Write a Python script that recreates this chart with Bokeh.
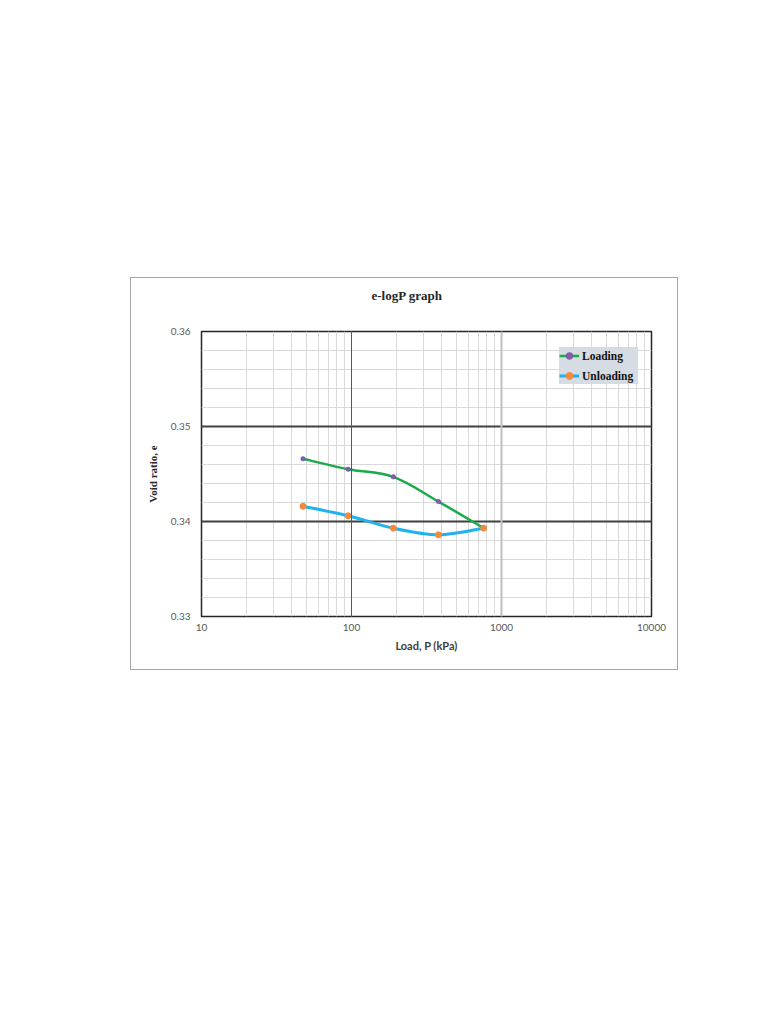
import numpy as np
from bokeh.plotting import figure
from bokeh.models import FixedTicker, Span, Legend, LegendItem, Spacer, Title
from bokeh.layouts import column, row
from bokeh.embed import file_html
from bokeh.resources import INLINE

# ---- data ----
load_P = [47.5, 95, 190, 380, 760]
e_loading = [0.3466, 0.3455, 0.3447, 0.3421, 0.3393]
unload_P = [760, 380, 190, 95, 47.5]
e_unloading = [0.3393, 0.3386, 0.3393, 0.3406, 0.3416]

x_ticks = [10, 100, 1000, 10000]
y_ticks = [0.33, 0.34, 0.35, 0.36]
x_minor = [m * d for d in [10, 100, 1000] for m in range(2, 10)]
y_minor = [round(t + k * 0.002, 4) for t in y_ticks[:-1] for k in range(1, 5)]


def smooth(xs, ys):
    """Excel-like smoothed line: Catmull-Rom segments as cubic Beziers (in log-x space)."""
    lx = np.log10(np.asarray(xs, dtype=float))
    y = np.asarray(ys, dtype=float)
    n = len(lx)
    d = dict(x0=[], y0=[], x1=[], y1=[], cx0=[], cy0=[], cx1=[], cy1=[])
    for i in range(n - 1):
        a, b = max(i - 1, 0), min(i + 2, n - 1)
        d["x0"].append(10 ** lx[i]); d["y0"].append(y[i])
        d["x1"].append(10 ** lx[i + 1]); d["y1"].append(y[i + 1])
        d["cx0"].append(10 ** (lx[i] + (lx[i + 1] - lx[a]) / 6))
        d["cy0"].append(y[i] + (y[i + 1] - y[a]) / 6)
        d["cx1"].append(10 ** (lx[i + 1] - (lx[b] - lx[i]) / 6))
        d["cy1"].append(y[i + 1] - (y[b] - y[i]) / 6)
    return d


p = figure(width=548, height=393, x_axis_type="log",
           x_range=(10, 10000), y_range=(0.33, 0.36),
           output_backend="svg", toolbar_location=None,
           min_border_left=70, min_border_right=28,
           min_border_top=53, min_border_bottom=55)
p.title = None
p.styles = {"border": "1px solid #a6a6a6", "box-sizing": "border-box"}

# spacer panel between frame and title, then the chart title
p.add_layout(Title(text=" ", text_font_size="13px", standoff=10), "above")
p.add_layout(Title(text="e-logP graph", text_font="Liberation Serif", text_font_size="13px",
                   text_font_style="bold", text_color="#262626",
                   align="left", offset=170, vertical_align="top", standoff=0), "above")

p.outline_line_color = "#262626"
p.outline_line_width = 1.5
p.background_fill_color = "white"
p.border_fill_color = "white"

# axes
p.xaxis.ticker = FixedTicker(ticks=x_ticks, minor_ticks=x_minor)
p.yaxis.ticker = FixedTicker(ticks=y_ticks, minor_ticks=y_minor)
p.xaxis.major_label_overrides = {10: "10", 100: "100", 1000: "1000", 10000: "10000"}
p.yaxis.major_label_overrides = {0.33: "0.33", 0.34: "0.34", 0.35: "0.35", 0.36: "0.36"}
for ax in (p.xaxis, p.yaxis):
    ax.axis_line_color = None
    ax.major_tick_line_color = None
    ax.minor_tick_line_color = None
    ax.major_tick_out = 0
    ax.major_tick_in = 0
    ax.minor_tick_out = 0
    ax.major_label_text_font = "Lato"
    ax.major_label_text_font_size = "10px"
    ax.major_label_text_color = "#595959"

p.xaxis.major_label_standoff = 7
p.yaxis.major_label_standoff = 11
p.xaxis.axis_label = "Load, P (kPa)"
p.xaxis.axis_label_text_font = "Lato"
p.xaxis.axis_label_text_font_size = "11px"
p.xaxis.axis_label_text_font_style = "bold"
p.xaxis.axis_label_text_color = "#404040"
p.xaxis.axis_label_standoff = 5
p.yaxis.axis_label = "Void ratio, e"
p.yaxis.axis_label_text_font = "Liberation Serif"
p.yaxis.axis_label_text_font_size = "11px"
p.yaxis.axis_label_text_font_style = "bold"
p.yaxis.axis_label_text_color = "#262626"
p.yaxis.axis_label_standoff = 9

# grids
p.xgrid.grid_line_color = "#d9d9d9"
p.xgrid.minor_grid_line_color = "#d9d9d9"
p.ygrid.grid_line_color = "#404040"
p.ygrid.grid_line_width = 2
p.ygrid.minor_grid_line_color = "#d9d9d9"
p.add_layout(Span(location=x_ticks[1], dimension="height", line_color="#595959", line_width=1))
p.add_layout(Span(location=x_ticks[2], dimension="height", line_color="#bfbfbf", line_width=2))

# series
b1 = p.bezier(source=smooth(load_P, e_loading), x0="x0", y0="y0", x1="x1", y1="y1",
              cx0="cx0", cy0="cy0", cx1="cx1", cy1="cy1",
              line_color="#1aaa4a", line_width=2.5)
s1 = p.scatter(load_P, e_loading, size=4.5, marker="circle",
               fill_color="#8a5ca8", line_color="#5b4fa0", line_width=0.5)
b2 = p.bezier(source=smooth(unload_P, e_unloading), x0="x0", y0="y0", x1="x1", y1="y1",
              cx0="cx0", cy0="cy0", cx1="cx1", cy1="cy1",
              line_color="#1fb2ee", line_width=3)
s2 = p.scatter(unload_P, e_unloading, size=6, marker="circle",
               fill_color="#f08a3c", line_color="#f08a3c")

legend = Legend(items=[LegendItem(label="Loading", renderers=[b1, s1]),
                       LegendItem(label="Unloading", renderers=[b2, s2])],
                location=(358, 232), margin=0, padding=9, spacing=3,
                glyph_width=20, glyph_height=17, label_height=17,
                label_width=56, label_standoff=3,
                background_fill_color="#d6dce4", background_fill_alpha=1,
                border_line_color=None,
                label_text_font="Liberation Serif", label_text_font_style="bold",
                label_text_font_size="11.5px", label_text_color="#111111")
p.add_layout(legend)

layout = column(Spacer(height=277), row(Spacer(width=130), p))

open("out.html", "w").write(file_html(layout, INLINE))
